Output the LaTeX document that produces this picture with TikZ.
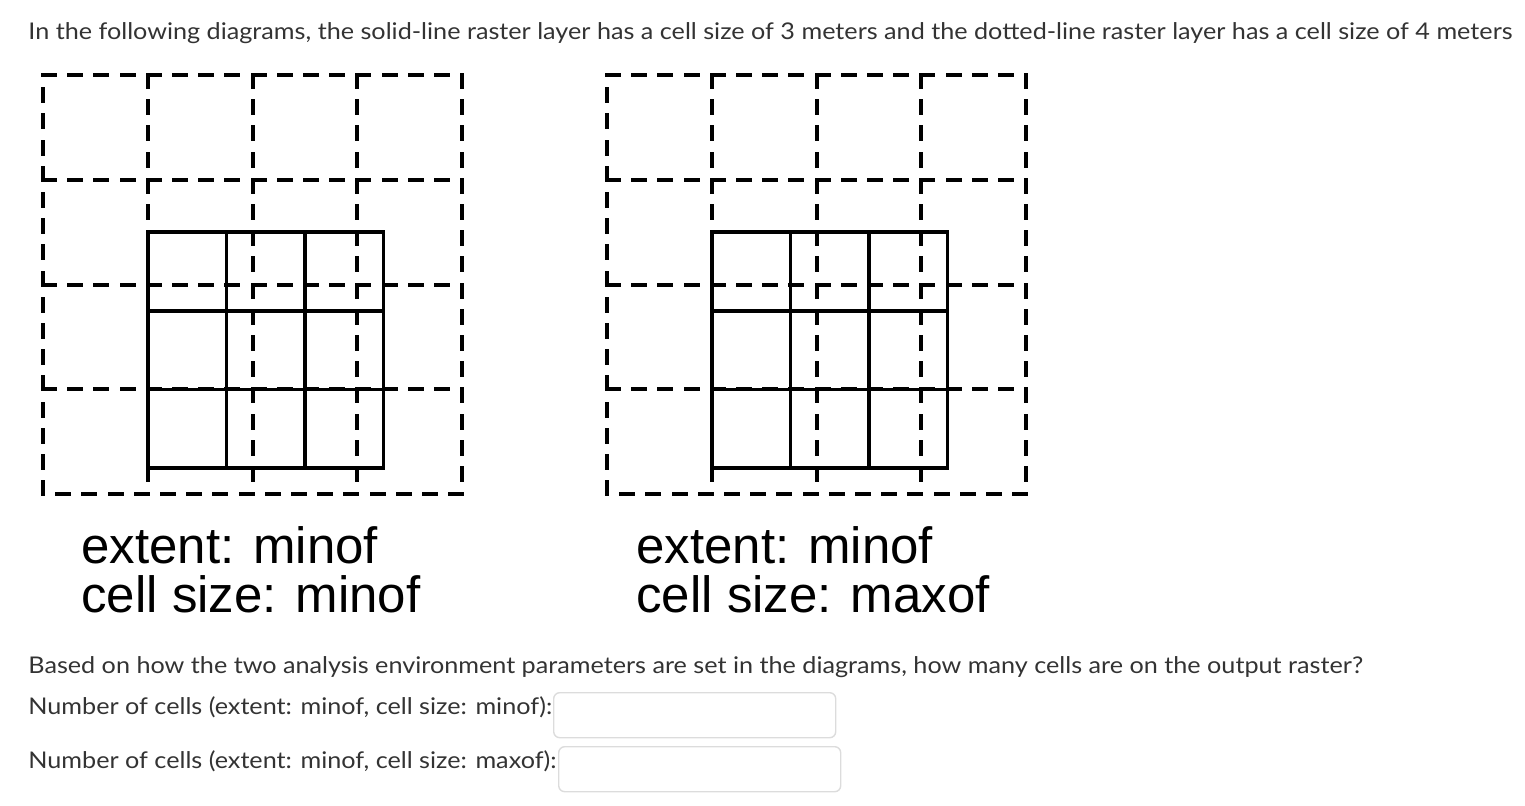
\documentclass[tikz,border=0pt]{standalone}
\usepackage{fontspec}
\setmainfont{Liberation Sans}
\newfontfamily\qfont[FakeStretch=1.095]{Lato}
\usetikzlibrary{positioning}

\definecolor{qtext}{HTML}{333333}
\definecolor{boxline}{HTML}{DCDCDC}

\tikzset{
  dgrid/.style={line width=2pt, line cap=rect, dash pattern=on 6pt off 7.1pt},
  sgrid/.style={line width=1.8pt, line join=miter},
  qtxt/.style={font=\qfont\fontsize{11.5pt}{13pt}\selectfont, text=qtext, inner sep=0pt, anchor=base west},
  lbl/.style={font=\fontsize{25.5pt}{24.5pt}\selectfont, inner sep=0pt, align=left, anchor=base west},
  inbox/.style={draw=boxline, line width=0.7pt, rounded corners=3pt, minimum width=141pt, minimum height=22.5pt, inner sep=0pt}
}

\begin{document}
\begin{tikzpicture}[x=0.5pt, y=-0.5pt]
        \useasboundingbox (0,0) rectangle (1525,806);

        % Rasters: dotted layer (4 m) and solid layer (3 m)
        \foreach \ox in {43,607} {
          % dotted cells, each edge starts at a corner
          \foreach \i in {0,...,3} {
            \foreach \j in {0,...,3} {
              \draw[dgrid] ({\ox+\i*104.8},{75+\j*104.8}) -- ({\ox+(\i+1)*104.8},{75+\j*104.8});
              \ifnum\i=0
                \draw[dgrid] ({\ox},{75+(\j+1)*104.8}) -- ({\ox},{75+\j*104.8});
              \else
                \draw[dgrid] ({\ox+\i*104.8},{75+\j*104.8}) -- ({\ox+\i*104.8},{75+(\j+1)*104.8});
              \fi
            }
          }
          \draw[dgrid] ({\ox+4*104.8},75) -- ({\ox+4*104.8},{75+4*104.8});
          \draw[dgrid] ({\ox+4*104.8},{75+4*104.8}) -- ({\ox},{75+4*104.8});
          % solid cells
          \draw[sgrid] ({\ox+104.8},232.2) rectangle ({\ox+104.8+3*78.6},{232.2+3*78.6});
          \foreach \k in {1,2} {
            \draw[sgrid] ({\ox+104.8+\k*78.6},232.2) -- ({\ox+104.8+\k*78.6},{232.2+3*78.6});
            \draw[sgrid] ({\ox+104.8},{232.2+\k*78.6}) -- ({\ox+104.8+3*78.6},{232.2+\k*78.6});
          }
        }

        % Text
        \node[qtxt] (intro) at (28,40) {In the following diagrams, the solid-line raster layer has a cell size of 3 meters and the dotted-line raster layer has a cell size of 4 meters};

        \node[lbl] (lblleft) at (81,612) {extent: minof\\cell size: minof};
        \node[lbl] (lblright) at (636,612) {extent: minof\\cell size: maxof};

        \node[qtxt] (question) at (28,673) {Based on how the two analysis environment parameters are set in the diagrams, how many cells are on the output raster?};
        \node[qtxt] (nummin) at (28,714) {Number of cells (extent: minof, cell size: minof):};
        \node[qtxt] (nummax) at (28,768) {Number of cells (extent: minof, cell size: maxof):};

        % Answer boxes
        \node[inbox, anchor=north west] (boxmin) at (553,692) {};
        \node[inbox, anchor=north west] (boxmax) at (558,746) {};
    \end{tikzpicture}
\end{document}
